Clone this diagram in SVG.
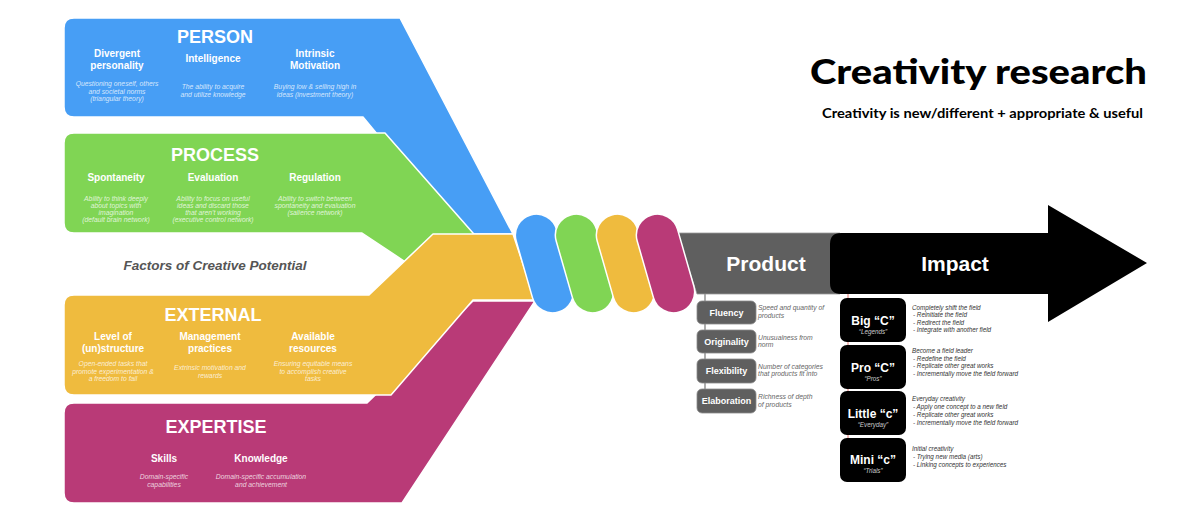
<svg xmlns="http://www.w3.org/2000/svg" width="1200" height="518" viewBox="0 0 1200 518">
<style>
.blk{stroke:#fff;stroke-width:1.5;stroke-linejoin:round}
.h1{font-family:"Liberation Sans",Arial,sans-serif;font-weight:bold;font-size:18px;fill:#fff;text-anchor:middle}
.h2{font-family:"Liberation Sans",Arial,sans-serif;font-weight:bold;font-size:10px;fill:#fff;text-anchor:middle}
.d{font-family:"Liberation Sans",Arial,sans-serif;font-style:italic;font-size:6.8px;fill:#fff;fill-opacity:0.78;text-anchor:middle}
.big{font-family:"Liberation Sans",Arial,sans-serif;font-weight:bold;font-size:21px;fill:#fff;text-anchor:middle}
.pb{fill:#5f5f5f;stroke:#8a8a8a;stroke-width:0.8}
.pt{font-family:"Liberation Sans",Arial,sans-serif;font-weight:bold;font-size:9px;fill:#fff;text-anchor:middle}
.pd{font-family:"Liberation Sans",Arial,sans-serif;font-style:italic;font-size:6.8px;fill:#666}
.ib{fill:#000}
.it{font-family:"Liberation Sans",Arial,sans-serif;font-weight:bold;font-size:12px;fill:#fff;text-anchor:middle}
.is{font-family:"Liberation Sans",Arial,sans-serif;font-style:italic;font-size:6.3px;fill:#ccc;text-anchor:middle}
.id{font-family:"Liberation Sans",Arial,sans-serif;font-style:italic;font-size:6.3px;fill:#333}
.cap{stroke:#fff;stroke-width:1.5}
</style>
<rect width="1200" height="518" fill="#fff"/>

<g id="person">
<path class="blk" fill="#479ef5" d="M74,18 H400 L513,234 H460 L363,117 H74 Q64,117 64,107 V28 Q64,18 74,18 Z"/>
<text class="h1" x="215" y="43">PERSON</text>
<text class="h2" x="117" y="57">Divergent</text>
<text class="h2" x="117" y="69">personality</text>
<text class="h2" x="213" y="62">Intelligence</text>
<text class="h2" x="315" y="57">Intrinsic</text>
<text class="h2" x="315" y="69">Motivation</text>
<text class="d" x="117" y="86">Questioning oneself, others</text>
<text class="d" x="117" y="93.5">and societal norms</text>
<text class="d" x="117" y="101">(triangular theory)</text>
<text class="d" x="213" y="88.5">The ability to acquire</text>
<text class="d" x="213" y="96.5">and utilize knowledge</text>
<text class="d" x="315" y="88.5">Buying low &amp; selling high in</text>
<text class="d" x="315" y="96.5">ideas (investment theory)</text>
</g>

<g id="process">
<path class="blk" fill="#80d554" d="M74,133 H385 L473,233 L495,265 H410 L362,233 H74 Q64,233 64,223 V143 Q64,133 74,133 Z"/>
<text class="h1" x="215" y="161">PROCESS</text>
<text class="h2" x="116" y="181">Spontaneity</text>
<text class="h2" x="213" y="181">Evaluation</text>
<text class="h2" x="315" y="181">Regulation</text>
<text class="d" x="116" y="201">Ability to think deeply</text>
<text class="d" x="116" y="208">about topics with</text>
<text class="d" x="116" y="215">imagination</text>
<text class="d" x="116" y="222">(default brain network)</text>
<text class="d" x="213" y="201">Ability to focus on useful</text>
<text class="d" x="213" y="208">ideas and discard those</text>
<text class="d" x="213" y="215">that aren’t working</text>
<text class="d" x="213" y="222">(executive control network)</text>
<text class="d" x="315" y="201">Ability to switch between</text>
<text class="d" x="315" y="208">spontaneity and evaluation</text>
<text class="d" x="315" y="215">(salience network)</text>
</g>

<g id="factors">
<text x="215" y="270" font-family="Liberation Sans, Arial, sans-serif" font-weight="bold" font-style="italic" font-size="13.5" fill="#555" text-anchor="middle">Factors of Creative Potential</text>
</g>

<g id="expertise">
<path class="blk" fill="#b93a77" d="M74,403 H367 L473,301 H535 L402,503 H74 Q64,503 64,493 V413 Q64,403 74,403 Z"/>
<text class="h1" x="216" y="433">EXPERTISE</text>
<text class="h2" x="164" y="462">Skills</text>
<text class="h2" x="261" y="462">Knowledge</text>
<text class="d" x="164" y="479">Domain-specific</text>
<text class="d" x="164" y="486.5">capabilities</text>
<text class="d" x="261" y="479">Domain-specific accumulation</text>
<text class="d" x="261" y="486.5">and achievement</text>
</g>

<g id="external">
<path class="blk" fill="#efbb3e" d="M74,295 H369 L433,234 H513 L535,300 H473 L391,395 H74 Q64,395 64,385 V305 Q64,295 74,295 Z"/>
<text class="h1" x="213" y="321">EXTERNAL</text>
<text class="h2" x="113" y="339.5">Level of</text>
<text class="h2" x="113" y="352">(un)structure</text>
<text class="h2" x="210" y="339.5">Management</text>
<text class="h2" x="210" y="352">practices</text>
<text class="h2" x="313" y="339.5">Available</text>
<text class="h2" x="313" y="352">resources</text>
<text class="d" x="113" y="366">Open-ended tasks that</text>
<text class="d" x="113" y="373.5">promote experimentation &amp;</text>
<text class="d" x="113" y="381">a freedom to fail</text>
<text class="d" x="210" y="370">Extrinsic motivation and</text>
<text class="d" x="210" y="377.5">rewards</text>
<text class="d" x="313" y="366">Ensuring equitable means</text>
<text class="d" x="313" y="373.5">to accomplish creative</text>
<text class="d" x="313" y="381">tasks</text>
</g>

<g id="connectors">
<line x1="705" y1="294" x2="705" y2="402" stroke="#777" stroke-width="1.2"/>
<line x1="848" y1="294" x2="848" y2="460" stroke="#d9534f" stroke-width="0.8"/>
</g>

<g id="product">
<path fill="#5f5f5f" stroke="#9a9a9a" stroke-width="0.8" d="M677,233 H840 V294 H697 Z"/>
<text class="big" x="766" y="271">Product</text>
</g>

<g id="ribbons">
<rect class="cap" fill="#479ef5" x="523.5" y="213" width="42" height="101" rx="21" transform="rotate(-16 544.5 263.5)"/>
<rect class="cap" fill="#80d554" x="563.5" y="213" width="42" height="101" rx="21" transform="rotate(-16 584.5 263.5)"/>
<rect class="cap" fill="#efbb3e" x="604.5" y="213" width="42" height="101" rx="21" transform="rotate(-16 625.5 263.5)"/>
<rect class="cap" fill="#b93a77" x="644.5" y="213" width="42" height="101" rx="21" transform="rotate(-16 665.5 263.5)"/>
</g>

<g id="impact">
<path fill="#000" d="M841,233 H1048 V205 L1147,263 L1048,322 V294 H841 Q830,294 830,283 V244 Q830,233 841,233 Z"/>
<text class="big" x="955" y="271">Impact</text>
</g>

<g id="fluency">
<rect class="pb" x="697" y="301" width="59" height="23" rx="5"/>
<text class="pt" x="726.5" y="315.5">Fluency</text>
<text class="pd" x="758" y="310">Speed and quantity of</text>
<text class="pd" x="758" y="317.5">products</text>
</g>
<g id="originality">
<rect class="pb" x="697" y="330" width="59" height="23" rx="5"/>
<text class="pt" x="726.5" y="344.5">Originality</text>
<text class="pd" x="758" y="339.5">Unusualness from</text>
<text class="pd" x="758" y="347">norm</text>
</g>
<g id="flexibility">
<rect class="pb" x="697" y="359" width="59" height="24" rx="5"/>
<text class="pt" x="726.5" y="373.5">Flexibility</text>
<text class="pd" x="758" y="368.5">Number of categories</text>
<text class="pd" x="758" y="376">that products fit into</text>
</g>
<g id="elaboration">
<rect class="pb" x="697" y="389" width="59" height="24" rx="5"/>
<text class="pt" x="726.5" y="403.5">Elaboration</text>
<text class="pd" x="758" y="398.5">Richness of depth</text>
<text class="pd" x="758" y="406.5">of products</text>
</g>

<g id="bigc">
<rect class="ib" x="840" y="298" width="66" height="44" rx="7"/>
<text class="it" x="873" y="325">Big “C”</text>
<text class="is" x="873" y="333.5">“Legends”</text>
<text class="id" x="912" y="310">Completely shift the field</text>
<text class="id" x="913" y="317">-  Reinitiate the field</text>
<text class="id" x="913" y="324.5">-  Redirect the field</text>
<text class="id" x="913" y="332.3">-  Integrate with another field</text>
</g>
<g id="proc">
<rect class="ib" x="840" y="345" width="66" height="44" rx="7"/>
<text class="it" x="873" y="372">Pro “C”</text>
<text class="is" x="873" y="380.5">“Pros”</text>
<text class="id" x="912" y="353">Become a field leader</text>
<text class="id" x="913" y="360.7">-  Redefine the field</text>
<text class="id" x="913" y="368.3">-  Replicate other great works</text>
<text class="id" x="913" y="376">-  Incrementally move the field forward</text>
</g>
<g id="littlec">
<rect class="ib" x="840" y="391" width="66" height="44" rx="7"/>
<text class="it" x="873" y="417.5">Little “c”</text>
<text class="is" x="873" y="427">“Everyday”</text>
<text class="id" x="912" y="401">Everyday creativity</text>
<text class="id" x="913" y="409">-  Apply one concept to a new field</text>
<text class="id" x="913" y="417">-  Replicate other great works</text>
<text class="id" x="913" y="425">-  Incrementally move the field forward</text>
</g>
<g id="minic">
<rect class="ib" x="840" y="438" width="66" height="44" rx="7"/>
<text class="it" x="873" y="463.5">Mini “c”</text>
<text class="is" x="873" y="473">“Trials”</text>
<text class="id" x="912" y="451">Initial creativity</text>
<text class="id" x="913" y="459">-  Trying new media (arts)</text>
<text class="id" x="913" y="467">-  Linking concepts to experiences</text>
</g>

<g id="title">
<text x="1147" y="84" font-family="Lato, 'Open Sans', sans-serif" font-weight="900" font-size="34" fill="#000" text-anchor="end" textLength="337" lengthAdjust="spacingAndGlyphs">Creativity research</text>
<text x="1143" y="118" font-family="Lato, 'Open Sans', sans-serif" font-weight="bold" font-size="13" fill="#000" text-anchor="end" textLength="321" lengthAdjust="spacingAndGlyphs">Creativity is new/different + appropriate &amp; useful</text>
</g>
</svg>
